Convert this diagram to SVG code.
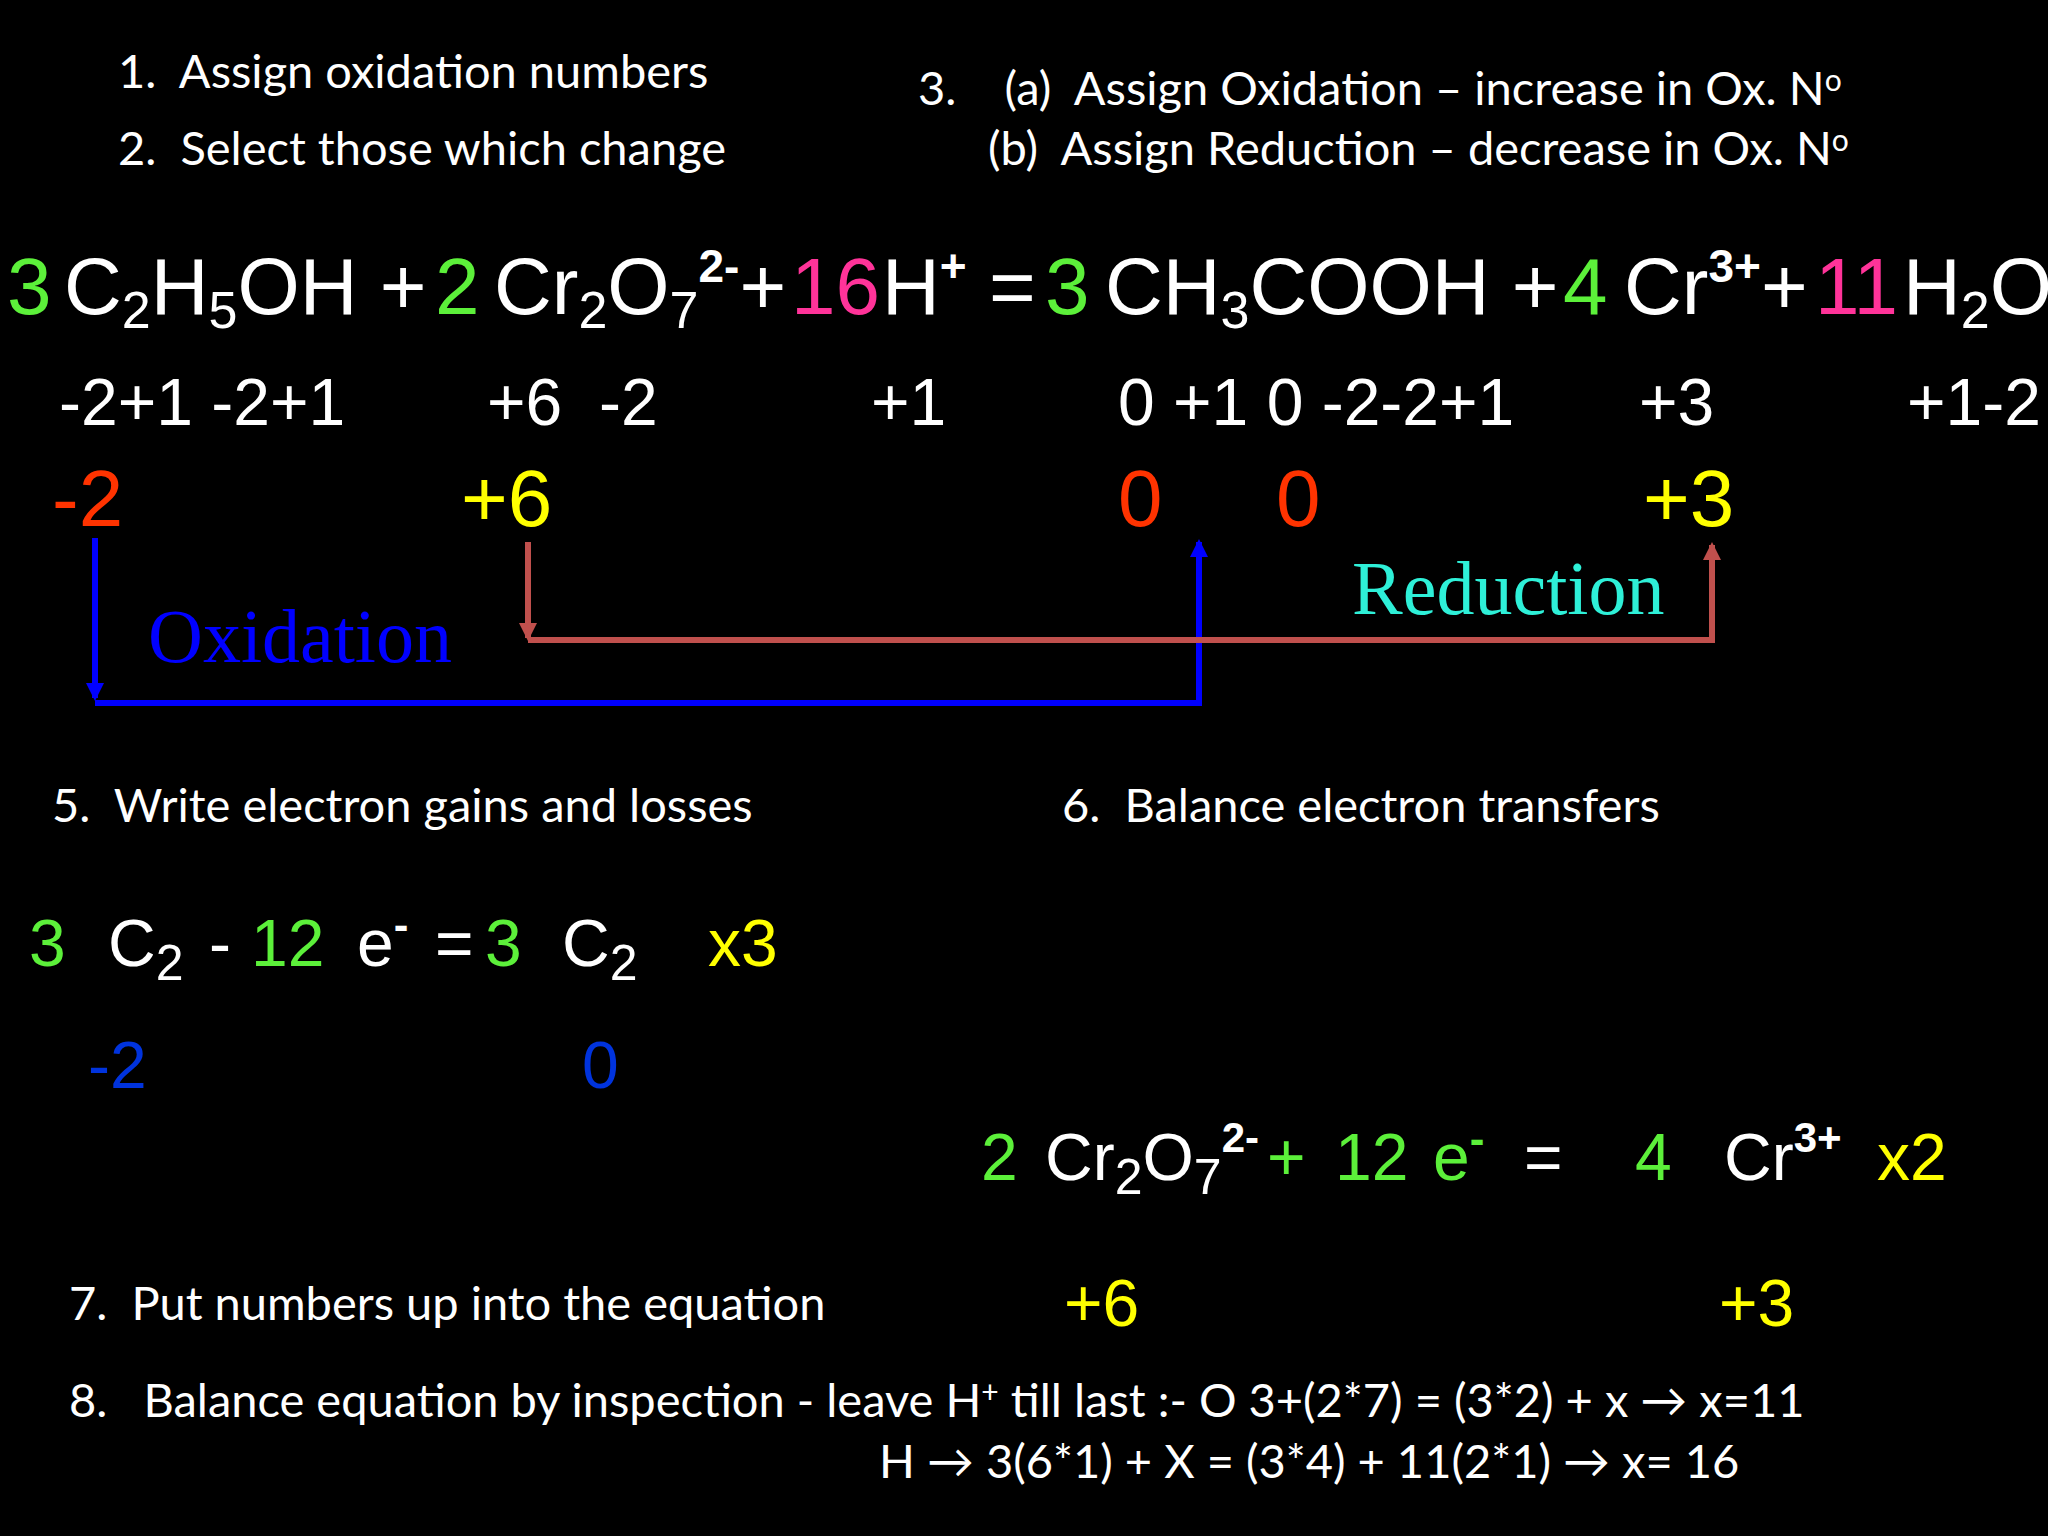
<svg xmlns="http://www.w3.org/2000/svg" width="2048" height="1536" viewBox="0 0 2048 1536">
<style>
text{white-space:pre}
.t{font-family:Lato,"Open Sans",sans-serif;font-size:47px;fill:#fff}
.e{font-family:"Liberation Sans",Arial,sans-serif;font-size:80px;fill:#fff}
.n{font-family:"Liberation Sans",Arial,sans-serif;font-size:66px;fill:#fff}
.h{font-family:"Liberation Sans",Arial,sans-serif;font-size:66px;fill:#fff;font-stretch:condensed}
.g{fill:#5cf03a}.p{fill:#ff3399}.r{fill:#ff3300}.y{fill:#ffff00}.b{fill:#0033dd}
.s{font-family:"Liberation Serif","Times New Roman",serif;font-size:76px}
</style>
<defs>
<marker id="ab" markerWidth="3" markerHeight="3" refX="2.5" refY="1.5" orient="auto" markerUnits="strokeWidth"><path d="M0,0 L3,1.5 L0,3 z" fill="#0000ff"/></marker>
<marker id="ar" markerWidth="3" markerHeight="3" refX="2.5" refY="1.5" orient="auto" markerUnits="strokeWidth"><path d="M0,0 L3,1.5 L0,3 z" fill="#c0504d"/></marker>
</defs>
<rect width="2048" height="1536" fill="#000"/>
<g id="steps">
<text class="t" x="118" y="88">1.  Assign oxidation numbers</text>
<text class="t" x="118" y="165">2.  Select those which change</text>
<text class="t" x="918" y="105">3.    (a)  Assign Oxidation – increase in Ox. N<tspan dy="-14" font-size="30">o</tspan></text>
<text class="t" x="988" y="165">(b)  Assign Reduction – decrease in Ox. N<tspan dy="-14" font-size="30">o</tspan></text>
<text class="t" x="52" y="822">5.  Write electron gains and losses</text>
<text class="t" x="1062" y="822">6.  Balance electron transfers</text>
<text class="t" x="69" y="1320">7.  Put numbers up into the equation</text>
<text class="t" x="69" y="1417">8.   Balance equation by inspection - leave H<tspan dy="-14" font-size="30">+</tspan><tspan dy="14"> till last :- O 3+(2*7) = (3*2) + x → x=11</tspan></text>
<text class="t" x="879" y="1478">H → 3(6*1) + X = (3*4) + 11(2*1) → x= 16</text>
</g>
<g id="equation">
<text class="e g" x="7" y="314">3</text>
<text class="e" x="64" y="314">C<tspan font-size="52" dy="14">2</tspan><tspan dy="-14">H</tspan><tspan font-size="52" dy="14">5</tspan><tspan dy="-14">OH +</tspan></text>
<text class="e g" x="435" y="314">2</text>
<text class="e" x="494" y="314">Cr<tspan font-size="52" dy="14">2</tspan><tspan dy="-14">O</tspan><tspan font-size="52" dy="14">7</tspan><tspan font-size="46" font-weight="bold" dy="-46">2-</tspan><tspan dy="32">+</tspan></text>
<text class="e p" x="791" y="314">16</text>
<text class="e" x="882" y="314">H<tspan font-size="46" font-weight="bold" dy="-32">+</tspan><tspan dy="32"> =</tspan></text>
<text class="e g" x="1045" y="314">3</text>
<text class="e" x="1105" y="314">CH<tspan font-size="52" dy="14">3</tspan><tspan dy="-14">COOH +</tspan></text>
<text class="e g" x="1563" y="314">4</text>
<text class="e" x="1624" y="314">Cr<tspan font-size="46" font-weight="bold" dy="-32">3+</tspan><tspan dy="32">+</tspan></text>
<text class="e p" x="1815" y="314">11</text>
<text class="e" x="1903" y="314">H<tspan font-size="52" dy="14">2</tspan><tspan dy="-14">O</tspan></text>
<text class="n" x="59" y="425">-2+1 -2+1</text>
<text class="n" x="487" y="425">+6  -2</text>
<text class="n" x="871" y="425">+1</text>
<text class="n" x="1118" y="425">0 +1 0 -2-2+1</text>
<text class="n" x="1639" y="425">+3</text>
<text class="n" x="1907" y="425">+1-2</text>
<text class="e r" x="52" y="526">-2</text>
<text class="e y" x="461" y="526">+6</text>
<text class="e r" x="1118" y="526">0</text>
<text class="e r" x="1276" y="526">0</text>
<text class="e y" x="1643" y="526">+3</text>
</g>
<g id="connectors" fill="none" stroke-width="6">
<polyline points="95,538 95,698" stroke="#0000ff" marker-end="url(#ab)"/>
<polyline points="95,703 1199,703 1199,542" stroke="#0000ff" marker-end="url(#ab)"/>
<polyline points="528,542 528,638" stroke="#c0504d" marker-end="url(#ar)"/>
<polyline points="528,640 1712,640 1712,545" stroke="#c0504d" marker-end="url(#ar)"/>
</g>
<text class="s" x="148" y="662" fill="#0000ff">Oxidation</text>
<text class="s" x="1352" y="614" fill="#2ef0d8">Reduction</text>
<g id="half1">
<text class="h g" x="29" y="966">3</text>
<text class="h" x="108" y="966">C<tspan font-size="50" dy="14">2</tspan></text>
<text class="h" x="209" y="966">-</text>
<text class="h g" x="251" y="966">12</text>
<text class="h" x="357" y="966">e<tspan font-size="44" font-weight="bold" dy="-26">-</tspan></text>
<text class="h" x="435" y="966">=</text>
<text class="h g" x="485" y="966">3</text>
<text class="h" x="562" y="966">C<tspan font-size="50" dy="14">2</tspan></text>
<text class="h y" x="708" y="966">x3</text>
<text class="h b" x="88" y="1088">-2</text>
<text class="h b" x="582" y="1088">0</text>
</g>
<g id="half2">
<text class="h g" x="981" y="1180">2</text>
<text class="h" x="1045" y="1180">Cr<tspan font-size="50" dy="14">2</tspan><tspan dy="-14">O</tspan><tspan font-size="50" dy="14">7</tspan><tspan font-size="42" font-weight="bold" dy="-42">2-</tspan></text>
<text class="h g" x="1267" y="1180">+</text>
<text class="h g" x="1335" y="1180">12</text>
<text class="h g" x="1433" y="1180">e<tspan font-size="44" font-weight="bold" dy="-26">-</tspan></text>
<text class="h" x="1524" y="1180">=</text>
<text class="h g" x="1635" y="1180">4</text>
<text class="h" x="1724" y="1180">Cr<tspan font-size="42" font-weight="bold" dy="-28">3+</tspan></text>
<text class="h y" x="1877" y="1180">x2</text>
<text class="h y" x="1064" y="1326">+6</text>
<text class="h y" x="1719" y="1326">+3</text>
</g>
</svg>
